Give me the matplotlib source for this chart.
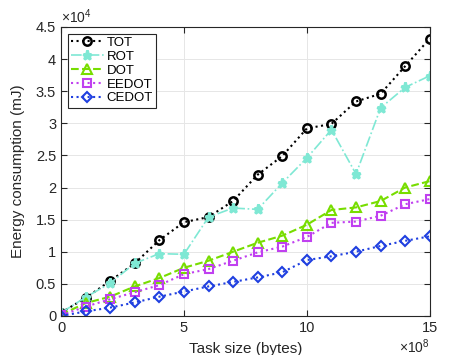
import matplotlib
matplotlib.use("Agg")
import matplotlib.pyplot as plt
from matplotlib.ticker import FuncFormatter, MultipleLocator
import numpy as np

plt.rcParams['font.family'] = ['Liberation Sans', 'DejaVu Sans']
plt.rcParams['mathtext.fontset'] = 'custom'
plt.rcParams['mathtext.rm'] = 'Liberation Sans'

task_size = [0, 1, 2, 3, 4, 5, 6, 7, 8, 9, 10, 11, 12, 13, 14, 15]  # x 1e8 bytes
tot   = [0.05, 0.28, 0.545, 0.82, 1.18, 1.46, 1.54, 1.79, 2.20, 2.49, 2.92, 2.99, 3.34, 3.46, 3.89, 4.32]
rot   = [0.05, 0.29, 0.51, 0.82, 0.97, 0.96, 1.54, 1.68, 1.66, 2.07, 2.46, 2.90, 2.21, 3.24, 3.56, 3.74]
dot   = [0.02, 0.20, 0.30, 0.46, 0.59, 0.75, 0.86, 1.00, 1.14, 1.25, 1.42, 1.65, 1.69, 1.79, 2.00, 2.10]
eedot = [0.01, 0.145, 0.26, 0.37, 0.48, 0.65, 0.73, 0.86, 0.99, 1.08, 1.23, 1.45, 1.47, 1.56, 1.74, 1.82]
cedot = [0.00, 0.07, 0.13, 0.21, 0.30, 0.38, 0.46, 0.53, 0.60, 0.68, 0.87, 0.93, 1.00, 1.09, 1.17, 1.24]

x_exp = 8
y_exp = 4
x = np.array(task_size) * 10.0**x_exp

fig = plt.figure(figsize=(4.74, 3.55), dpi=100)
ax = fig.add_axes([0.1287, 0.11, 0.778, 0.814])

series = [
    ("TOT", tot, dict(color='black', ls=':', marker='o', mfc='none', ms=6, mew=1.8, lw=1.5)),
    ("ROT", rot, dict(color='#7fe8d4', ls='-.', marker='*', ms=6.5, mew=2, lw=1.2)),
    ("DOT", dot, dict(color='#77dd00', ls='--', marker='^', mfc='none', ms=7, mew=1.5, lw=1.5)),
    ("EEDOT", eedot, dict(color='#c040f0', ls=':', marker='s', mfc='none', ms=5.5, mew=1.5, lw=1.5)),
    ("CEDOT", cedot, dict(color='#1f3fe0', ls=':', marker='D', mfc='none', ms=5, mew=1.5, lw=1.5)),
]
for name, vals, st in series:
    ax.plot(x, np.array(vals) * 10.0**y_exp, label=name, **st)

ax.set_xlim(0, 15e8)
ax.set_ylim(0, 4.5e4)
ax.xaxis.set_major_locator(MultipleLocator(5e8))
ax.yaxis.set_major_locator(MultipleLocator(0.5e4))
ax.xaxis.set_major_formatter(FuncFormatter(lambda v, p: '%g' % round(v / 10.0**x_exp, 6)))
ax.yaxis.set_major_formatter(FuncFormatter(lambda v, p: '%g' % round(v / 10.0**y_exp, 6)))

ax.tick_params(direction='in', length=4, labelsize=10.5, colors='#262626', top=True, right=True)
ax.grid(True, color='#e6e6e6', lw=0.7)
ax.set_axisbelow(True)
for sp in ax.spines.values():
    sp.set_color('#262626')
    sp.set_linewidth(0.8)

ax.set_xlabel('Task size (bytes)', fontsize=11, color='#262626', labelpad=5)
ax.set_ylabel('Energy consumption (mJ)', fontsize=11, color='#262626', labelpad=8)

ax.text(0.0, 1.005, r'$\times10^{%d}$' % y_exp, transform=ax.transAxes,
        ha='left', va='bottom', fontsize=10, color='#262626')
ax.text(1.0, -0.075, r'$\times10^{%d}$' % x_exp, transform=ax.transAxes,
        ha='right', va='top', fontsize=10, color='#262626')

leg = ax.legend(loc='upper left', fontsize=9.5, frameon=True, fancybox=False,
                edgecolor='#262626', framealpha=1, borderpad=0.25, labelspacing=0.12,
                handlelength=2.5, handletextpad=0.2, borderaxespad=0.5)
leg.get_frame().set_linewidth(0.8)

fig.savefig('out.png', dpi=100)
